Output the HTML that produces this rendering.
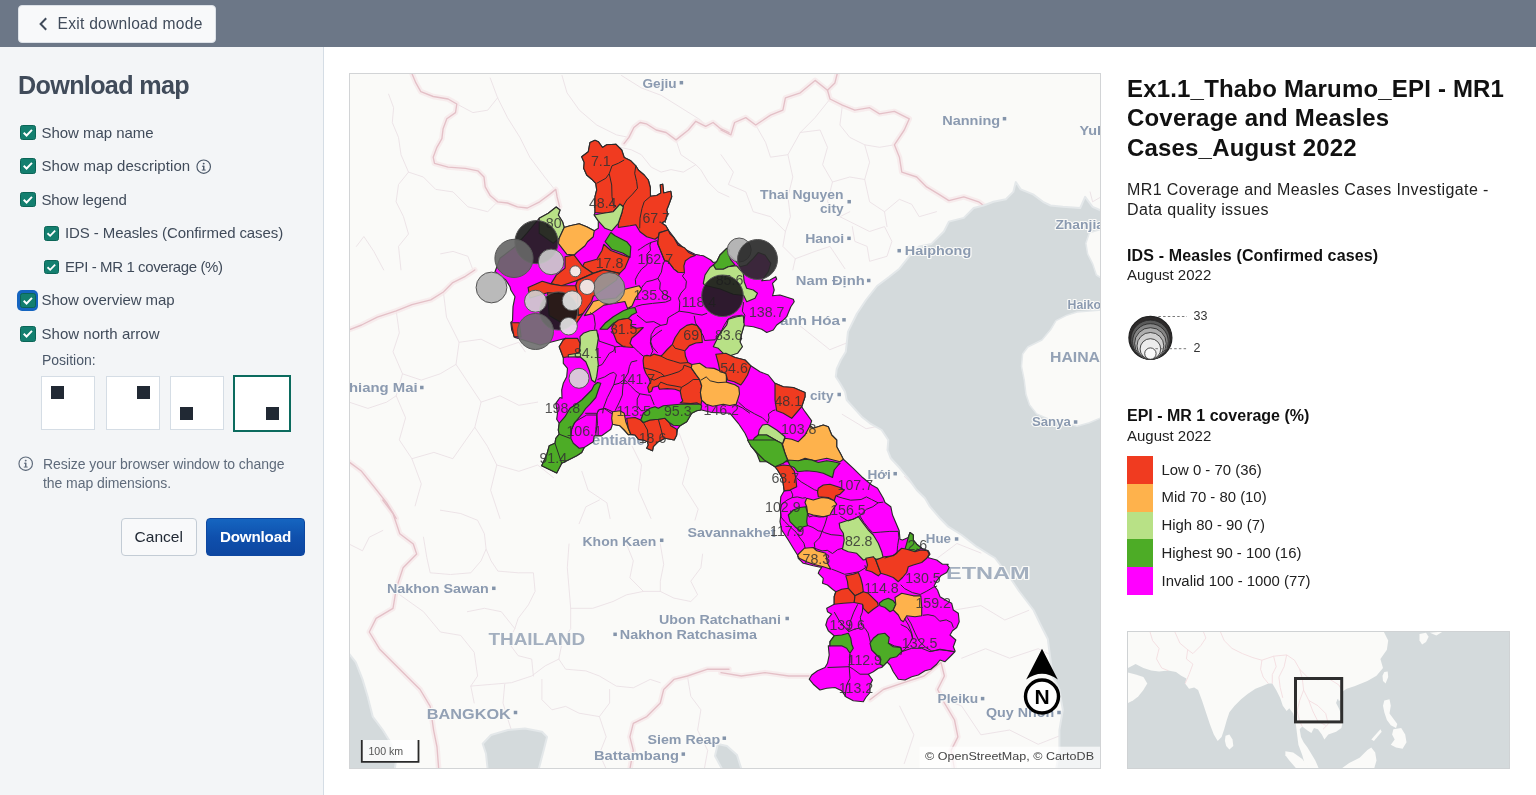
<!DOCTYPE html>
<html lang="en">
<head>
<meta charset="utf-8">
<title>Download map</title>
<style>
*{box-sizing:border-box;margin:0;padding:0}
html,body{width:1536px;height:795px;overflow:hidden;background:#fff;font-family:"Liberation Sans",sans-serif;color:#212934}
.abs{position:absolute}
#topbar{position:absolute;left:0;top:0;width:1536px;height:47px;background:#6c7787}
#exitbtn{position:absolute;left:17.5px;top:4.5px;width:198.5px;height:38px;background:#f8f9fa;border-radius:4px;border:1px solid #dde2e8;color:#404b5a;font-size:15.6px;letter-spacing:0.26px;line-height:36px;white-space:nowrap}
#exitbtn span{position:absolute;left:39px;top:0.5px}
#exitbtn svg{position:absolute;left:18.5px;top:10.8px}
#left{position:absolute;left:0;top:47px;width:324px;height:748px;background:#f3f5f7;border-right:1px solid #d5dde5}
#left h2{position:absolute;left:18px;top:23.5px;font-size:25.2px;font-weight:bold;color:#404b5a;white-space:nowrap;letter-spacing:-0.68px}
.cb{position:absolute;width:15.5px;height:15.5px;background:#137f6f;border:1px solid #0b6557;border-radius:2.5px}
.cb svg{position:absolute;left:0;top:0}
.cb.sm{width:14.5px;height:14.5px}
.lbl{position:absolute;font-size:15px;color:#404b5a;white-space:nowrap;line-height:18px}
.focus{position:absolute;left:17px;top:243px;width:21px;height:21px;border-radius:5px;background:#1565c0}
.posl{position:absolute;left:42px;top:305px;font-size:14px;color:#4a5768;line-height:16px}
.pbox{position:absolute;top:329px;width:53.5px;height:53.5px;background:#fff;border:1px solid #d5dde5}
.pbox.sel{border:2.5px solid #0b6b5e;top:327.5px;width:57.5px;height:57px}
.dot{position:absolute;width:13px;height:13px;background:#212934}
.info{position:absolute;left:43px;top:407.7px;font-size:14px;letter-spacing:-0.06px;line-height:19px;color:#5f6b7b;white-space:nowrap}
.btn{position:absolute;top:470.5px;height:38.5px;border-radius:4px;font-size:15.2px;line-height:36px;text-align:center;white-space:nowrap}
#cancel{left:120.5px;width:76.5px;font-size:15.55px;background:#f8f9fa;border:1px solid #c3ccd5;color:#212934}
#download{left:206px;width:99px;background:linear-gradient(180deg,#1565c0 0%,#0f50ad 50%,#0d47a1 100%);border:1px solid #0d47a1;color:#fff;font-weight:bold;letter-spacing:-0.2px}
#map{position:absolute;left:349px;top:73px;width:752px;height:696px;border:1px solid #d2d4d6;overflow:hidden;background:#fbfbfa}
#right{position:absolute;left:1127px;top:73px;width:400px}
.rt{position:absolute;white-space:nowrap}
.lg{font-size:14.9px;line-height:20px;color:#212121}
</style>
</head>
<body>
<div id="topbar">
  <div id="exitbtn"><svg width="12" height="16" viewBox="0 0 12 16"><path d="M9.2 2.2 L3.6 8 L9.2 13.8" fill="none" stroke="#404b5a" stroke-width="2"/></svg><span>Exit download mode</span></div>
</div>
<div id="left">
  <h2>Download map</h2>
  <div class="cb" style="left:20px;top:77.8px"><svg width="13.5" height="13.5" viewBox="0 0 16 16"><path d="M3.2 8 L6.6 11.3 L13 4.6" fill="none" stroke="#fff" stroke-width="2.3"/></svg></div>
  <div class="lbl" style="left:41.5px;top:76.5px;letter-spacing:-0.040px">Show map name</div>
  <div class="cb" style="left:20px;top:111.2px"><svg width="13.5" height="13.5" viewBox="0 0 16 16"><path d="M3.2 8 L6.6 11.3 L13 4.6" fill="none" stroke="#fff" stroke-width="2.3"/></svg></div>
  <div class="lbl" style="left:41.5px;top:110.0px;letter-spacing:0.055px">Show map description</div>
  <div class="cb" style="left:20px;top:144.9px"><svg width="13.5" height="13.5" viewBox="0 0 16 16"><path d="M3.2 8 L6.6 11.3 L13 4.6" fill="none" stroke="#fff" stroke-width="2.3"/></svg></div>
  <div class="lbl" style="left:41.5px;top:143.7px;letter-spacing:-0.150px">Show legend</div>
  <div class="cb sm" style="left:44px;top:179.1px"><svg width="12.5" height="12.5" viewBox="0 0 16 16"><path d="M3.2 8 L6.6 11.3 L13 4.6" fill="none" stroke="#fff" stroke-width="2.3"/></svg></div>
  <div class="lbl" style="left:65px;top:177.3px;letter-spacing:-0.090px">IDS - Measles (Confirmed cases)</div>
  <div class="cb sm" style="left:44px;top:212.6px"><svg width="12.5" height="12.5" viewBox="0 0 16 16"><path d="M3.2 8 L6.6 11.3 L13 4.6" fill="none" stroke="#fff" stroke-width="2.3"/></svg></div>
  <div class="lbl" style="left:65px;top:210.8px;letter-spacing:-0.400px">EPI - MR 1 coverage (%)</div>
  <div class="focus" style="top:242.9px"></div>
  <div class="cb" style="left:20px;top:245.6px"><svg width="13.5" height="13.5" viewBox="0 0 16 16"><path d="M3.2 8 L6.6 11.3 L13 4.6" fill="none" stroke="#fff" stroke-width="2.3"/></svg></div>
  <div class="lbl" style="left:41.5px;top:244.4px;letter-spacing:-0.070px">Show overview map</div>
  <div class="cb" style="left:20px;top:279.2px"><svg width="13.5" height="13.5" viewBox="0 0 16 16"><path d="M3.2 8 L6.6 11.3 L13 4.6" fill="none" stroke="#fff" stroke-width="2.3"/></svg></div>
  <div class="lbl" style="left:41.5px;top:278.0px;letter-spacing:0.030px">Show north arrow</div>
  <svg class="abs" style="left:195.5px;top:112.2px" width="15.4" height="15.4" viewBox="0 0 16 16"><circle cx="8" cy="8" r="7" fill="none" stroke="#4a5768" stroke-width="1.2"/><rect x="7.3" y="7" width="1.5" height="4.4" fill="#4a5768"/><rect x="6.2" y="7" width="2.2" height="1" fill="#4a5768"/><rect x="6" y="11" width="4" height="1" fill="#4a5768"/><circle cx="8" cy="4.8" r="1" fill="#4a5768"/></svg>
  <div class="posl">Position:</div>
  <div class="pbox" style="left:41.25px"><div class="dot" style="left:8.5px;top:8.5px"></div></div>
  <div class="pbox" style="left:106.00px"><div class="dot" style="left:29.5px;top:8.5px"></div></div>
  <div class="pbox" style="left:170.40px"><div class="dot" style="left:8.5px;top:30.0px"></div></div>
  <div class="pbox sel" style="left:233px"><div class="dot" style="left:30.5px;top:30.2px"></div></div>
  <svg class="abs" style="left:18px;top:408.5px" width="15.4" height="15.4" viewBox="0 0 16 16"><circle cx="8" cy="8" r="7" fill="none" stroke="#5f6b7b" stroke-width="1.2"/><rect x="7.3" y="7" width="1.5" height="4.4" fill="#5f6b7b"/><rect x="6.2" y="7" width="2.2" height="1" fill="#5f6b7b"/><rect x="6" y="11" width="4" height="1" fill="#5f6b7b"/><circle cx="8" cy="4.8" r="1" fill="#5f6b7b"/></svg>
  <div class="info">Resize your browser window to change<br>the map dimensions.</div>
  <div class="btn" id="cancel">Cancel</div>
  <div class="btn" id="download">Download</div>
</div>
<div id="map">
<svg width="750" height="694" viewBox="350 74 750 694" style="position:absolute;left:0;top:0">
<defs><filter id="bl" x="-2%" y="-2%" width="104%" height="104%"><feGaussianBlur stdDeviation="0.7"/></filter></defs>
<g filter="url(#bl)">
<rect x="340" y="64" width="770" height="714" fill="#fafaf8"/>
<g fill="none" stroke-linejoin="round" stroke-linecap="round">
<g stroke="#ebe1e5" stroke-width="0.9">
<polyline points="423.5,537.2 426.8,557.5 430.2,572.8 450.5,574.5 470.8,572.8 481.0,560.9 486.1,549.1 491.1,560.9 497.9,571.1 518.2,572.8 533.4,572.8 535.1,591.4 528.4,604.9 518.2,618.4 514.8,628.6"/>
<polyline points="569.0,544.0 567.3,567.7 569.0,588.0 570.7,608.3 570.7,628.6 562.2,642.1 558.8,659.1 565.6,669.2 585.9,670.9 599.4,676.0 616.3,686.1 633.3,687.8 650.2,679.4 660.3,682.7"/>
<polyline points="570.7,608.3 592.7,608.3 613.0,601.5 626.5,594.8 643.4,591.4 660.3,591.4 673.9,598.1 690.8,601.5 697.6,594.8 690.8,581.2 700.9,567.7 702.6,554.1"/>
<polyline points="660.3,544.0 663.7,564.3 660.3,581.2 660.3,591.4"/>
<polyline points="470.8,686.1 491.1,684.4 511.4,682.7 531.7,676.0 545.3,665.8 558.8,659.1"/>
<polyline points="504.7,684.4 503.0,703.0 508.1,720.0 511.4,730.1"/>
<polyline points="541.9,679.4 541.9,699.7 552.0,709.8 565.6,706.4 579.1,713.2 599.4,716.6 609.6,703.0 609.6,689.5"/>
<polyline points="440.4,510.2 460.7,513.5 477.6,520.3 484.4,533.8 486.1,549.1"/>
<polyline points="579.1,523.7 585.9,506.8 599.4,500.0"/>
<polyline points="349.0,544.0 362.5,550.8 369.3,537.2 382.8,530.5"/>
<polyline points="399.8,594.8 423.5,611.7 440.4,632.0 460.7,635.4 474.2,652.3 477.6,676.0 470.8,686.1 474.2,703.0"/>
<polyline points="467.4,611.7 484.4,608.3 501.3,611.7 514.8,628.6 508.1,642.1 518.2,655.7 531.7,659.1 533.4,676.0"/>
<polyline points="626.5,544.0 633.3,560.9 629.9,577.8 643.4,591.4"/>
<polyline points="687.4,676.0 690.8,696.3 700.9,709.8 697.6,730.1 707.7,750.4 704.3,769.0"/>
<polyline points="599.4,716.6 606.2,736.9 599.4,753.8 606.2,769.0"/>
<polyline points="396.2,310.9 399.3,332.9 393.0,351.8 402.5,373.8 396.2,395.8 405.6,417.8 399.3,439.9 411.9,458.7 421.3,483.9 415.1,505.9"/>
<polyline points="443.4,292.0 446.5,317.2 459.1,342.3 456.0,364.4 468.5,383.2 481.1,402.1 474.8,427.3 487.4,446.2 496.8,465.0 490.6,490.2 500.0,518.5"/>
<polyline points="459.1,342.3 481.1,339.2 500.0,348.6 518.9,342.3 525.2,351.8"/>
<polyline points="402.5,373.8 421.3,380.1 440.2,373.8 456.0,364.4"/>
<polyline points="481.1,402.1 500.0,395.8 518.9,405.3 537.7,402.1"/>
<polyline points="349.0,402.1 367.9,408.4 386.7,402.1 396.2,395.8"/>
<polyline points="411.9,458.7 433.9,452.4 452.8,458.7 474.8,427.3"/>
<polyline points="496.8,465.0 518.9,471.3 537.7,465.0 553.5,477.6"/>
<polyline points="581.8,471.3 588.1,490.2 606.9,502.8 610.1,518.5"/>
<polyline points="632.1,446.2 641.5,465.0 638.4,490.2 651.0,518.5"/>
<polyline points="679.3,433.6 688.7,458.7 682.4,483.9 698.2,509.1 695.0,520.1"/>
<polyline points="388.6,94.1 393.6,107.7 392.3,122.5 398.5,137.4 401.0,154.7 408.5,172.1 398.5,184.5 396.1,201.8 403.5,216.7 408.5,234.0 398.5,246.4 401.0,269.9"/>
<polyline points="490.2,78.0 497.6,97.8 507.5,117.6 519.9,137.4 529.8,157.2 544.7,177.0 554.6,189.4"/>
<polyline points="562.0,75.5 567.0,92.8 579.4,110.2 596.7,125.0 616.5,134.9 628.9,137.4"/>
<polyline points="456.8,104.0 472.9,112.6 487.7,110.2 497.6,97.8"/>
<polyline points="408.5,172.1 423.3,177.0 435.7,189.4 453.0,191.9 467.9,206.8 487.7,211.7 497.6,201.8"/>
<polyline points="620.2,147.3 631.4,149.8 641.3,154.7 651.2,167.1 661.1,172.1 671.0,169.6 683.4,172.1 695.8,164.7 700.7,169.6 708.2,182.0 718.1,191.9 729.0,196.9"/>
<polyline points="676.0,139.9 680.9,154.7 695.8,164.7"/>
<polyline points="621.5,75.5 641.3,87.9 661.1,95.3 680.9,107.7 700.7,120.1 705.7,126.3"/>
<polyline points="356.4,246.4 363.9,236.5 373.8,251.4 383.7,269.9"/>
<polyline points="440.7,253.8 453.0,251.4 467.9,256.3 472.9,269.9"/>
<polyline points="721.0,154.7 733.4,172.1 728.4,184.5 745.8,191.9 753.2,211.7 770.5,216.7 785.4,231.5 782.9,246.4 795.3,258.8 792.8,269.9"/>
<polyline points="755.7,125.0 765.6,142.4 770.5,157.2 787.9,154.7 800.3,132.5 815.1,117.6 830.0,99.0"/>
<polyline points="787.9,154.7 792.8,177.0 787.9,196.9 790.4,216.7 785.4,231.5"/>
<polyline points="800.3,132.5 820.1,130.0 827.5,147.3 822.6,164.7 832.5,182.0 827.5,201.8 839.9,216.7 849.8,211.7"/>
<polyline points="842.4,105.2 839.9,125.0 849.8,137.4 864.7,144.8 879.5,147.3 894.4,144.8"/>
<polyline points="864.7,144.8 869.6,162.2 864.7,179.5 869.6,201.8 884.5,211.7 899.4,199.3 911.7,204.3 919.2,216.7 936.5,211.7"/>
<polyline points="832.5,182.0 849.8,177.0 864.7,179.5"/>
<polyline points="839.9,216.7 854.8,224.1 869.6,231.5 884.5,226.6 891.9,241.4 887.0,256.3 869.6,261.3 867.1,246.4 854.8,241.4 852.3,226.6"/>
<polyline points="795.3,258.8 815.1,251.4 830.0,246.4 844.9,268.7"/>
<polyline points="884.5,211.7 887.0,226.6"/>
<polyline points="1090.1,191.9 1092.6,201.8 1101.0,196.9"/>
<polyline points="784.5,313.5 807.2,331.6 829.8,349.7 852.4,340.7"/>
<polyline points="842.2,414.3 866.1,428.7 890.0,423.9 904.3,438.3"/>
<polyline points="904.3,476.5 923.5,495.6 947.4,490.9 966.5,510.0"/>
<polyline points="937.8,557.8 956.9,543.5 980.9,553.0"/>
<polyline points="952.2,610.4 980.9,605.6 1004.8,620.0 1028.7,610.4"/>
<polyline points="961.7,658.2 985.6,648.7 1009.6,658.2 1038.2,648.7 1057.4,658.2"/>
<polyline points="937.8,696.5 961.7,706.1 980.9,734.8 1009.6,730.0 1038.2,744.3 1062.2,734.8"/>
<polyline points="899.6,706.1 913.9,734.8 904.3,763.5"/>
</g><g stroke="#f6e8ea" stroke-width="5.5" stroke-opacity="0.8">
<polyline points="412.2,74.2 415.9,82.9 420.8,91.6 433.2,96.5 448.1,99.0 456.8,104.0 455.5,112.6 446.8,118.8 443.1,128.7 441.9,138.6 436.9,147.3 433.2,157.2 434.5,163.4 448.1,167.1 465.4,168.4 477.8,170.8 484.0,177.0 485.2,186.9 490.2,195.6 497.6,201.8 507.5,203.0 517.4,206.8 527.4,208.0 539.7,201.8 549.6,194.4 555.8,189.4 557.1,196.9 559.6,206.8"/>
<polyline points="624.0,143.6 628.9,137.4 633.9,127.5 640.1,122.5 646.3,123.8 656.2,130.0 666.1,132.5 676.0,139.9 688.4,130.0 695.8,121.3 705.7,126.3 713.1,122.5 720.6,128.7 729.0,132.5"/>
<polyline points="721.0,130.0 730.9,134.9 734.6,122.5 745.8,117.6 755.7,125.0 770.5,115.1 782.9,110.2 785.4,97.8 800.3,92.8 815.1,80.4 827.5,90.3 830.0,99.0 842.4,105.2 854.8,110.2 869.6,107.7 879.5,113.9 894.4,111.4 909.3,118.8 904.3,130.0 894.4,144.8 899.4,157.2 901.8,172.1 916.7,177.0 926.6,186.9 939.0,194.4 948.9,200.6 963.8,196.9 978.6,201.8 983.6,205.5"/>
<polyline points="837.4,73.0 834.9,82.9 827.5,90.3"/>
<polyline points="349.0,329.8 361.6,325.0 377.3,317.2 396.2,310.9 411.9,304.6 430.8,299.9 443.4,292.0 452.8,282.6 465.4,276.3 474.8,270.0"/>
<polyline points="349.0,461.9 361.6,471.3 374.2,487.0 386.7,502.8 396.2,518.5"/>
<polyline points="382.8,500.0 393.0,513.5 399.8,533.8 413.3,544.0 416.7,554.1 403.1,567.7 396.4,588.0 393.0,608.3 376.1,618.4 369.3,632.0 379.5,648.9 393.0,662.4 406.5,676.0 420.1,689.5 430.2,706.4 433.6,730.1 437.0,747.0 438.7,769.0"/>
<polyline points="729.0,669.2 707.7,669.2 687.4,676.0 673.9,679.4 663.7,689.5 660.3,703.0 646.8,716.6 633.3,723.4 629.9,736.9 633.3,750.4 629.9,769.0"/>
<polyline points="721.0,672.6 741.3,676.0 765.0,672.6 788.7,676.0 809.0,676.0"/>
<polyline points="869.9,699.7 883.4,689.5 903.7,682.7 924.0,676.0 941.0,662.4 944.4,676.0 937.6,689.5 944.4,703.0 954.5,720.0 957.9,736.9 951.1,750.4 954.5,769.0"/>
</g><g stroke="#e4c0c7" stroke-width="1.35">
<polyline points="412.2,74.2 415.9,82.9 420.8,91.6 433.2,96.5 448.1,99.0 456.8,104.0 455.5,112.6 446.8,118.8 443.1,128.7 441.9,138.6 436.9,147.3 433.2,157.2 434.5,163.4 448.1,167.1 465.4,168.4 477.8,170.8 484.0,177.0 485.2,186.9 490.2,195.6 497.6,201.8 507.5,203.0 517.4,206.8 527.4,208.0 539.7,201.8 549.6,194.4 555.8,189.4 557.1,196.9 559.6,206.8"/>
<polyline points="624.0,143.6 628.9,137.4 633.9,127.5 640.1,122.5 646.3,123.8 656.2,130.0 666.1,132.5 676.0,139.9 688.4,130.0 695.8,121.3 705.7,126.3 713.1,122.5 720.6,128.7 729.0,132.5"/>
<polyline points="721.0,130.0 730.9,134.9 734.6,122.5 745.8,117.6 755.7,125.0 770.5,115.1 782.9,110.2 785.4,97.8 800.3,92.8 815.1,80.4 827.5,90.3 830.0,99.0 842.4,105.2 854.8,110.2 869.6,107.7 879.5,113.9 894.4,111.4 909.3,118.8 904.3,130.0 894.4,144.8 899.4,157.2 901.8,172.1 916.7,177.0 926.6,186.9 939.0,194.4 948.9,200.6 963.8,196.9 978.6,201.8 983.6,205.5"/>
<polyline points="837.4,73.0 834.9,82.9 827.5,90.3"/>
<polyline points="349.0,329.8 361.6,325.0 377.3,317.2 396.2,310.9 411.9,304.6 430.8,299.9 443.4,292.0 452.8,282.6 465.4,276.3 474.8,270.0"/>
<polyline points="349.0,461.9 361.6,471.3 374.2,487.0 386.7,502.8 396.2,518.5"/>
<polyline points="382.8,500.0 393.0,513.5 399.8,533.8 413.3,544.0 416.7,554.1 403.1,567.7 396.4,588.0 393.0,608.3 376.1,618.4 369.3,632.0 379.5,648.9 393.0,662.4 406.5,676.0 420.1,689.5 430.2,706.4 433.6,730.1 437.0,747.0 438.7,769.0"/>
<polyline points="729.0,669.2 707.7,669.2 687.4,676.0 673.9,679.4 663.7,689.5 660.3,703.0 646.8,716.6 633.3,723.4 629.9,736.9 633.3,750.4 629.9,769.0"/>
<polyline points="721.0,672.6 741.3,676.0 765.0,672.6 788.7,676.0 809.0,676.0"/>
<polyline points="869.9,699.7 883.4,689.5 903.7,682.7 924.0,676.0 941.0,662.4 944.4,676.0 937.6,689.5 944.4,703.0 954.5,720.0 957.9,736.9 951.1,750.4 954.5,769.0"/>
</g></g>
<g fill="#d4dadc" stroke="#e4e8ea" stroke-width="2" stroke-linejoin="round">
<polygon points="1101.0,210.5 1092.6,206.8 1085.1,196.9 1080.2,208.0 1062.8,206.8 1050.5,205.5 1043.0,201.8 1033.1,194.4 1020.7,189.4 1015.8,182.0 1013.3,191.9 1005.9,199.3 993.5,201.8 983.6,205.5 973.7,208.0 963.8,217.9 948.9,221.6 943.9,231.5 931.5,243.9 919.2,246.4 909.3,256.3 899.4,268.7 889.0,277.0 877.0,286.0 866.0,300.0 857.0,313.5 848.0,331.6 845.8,351.7 840.8,360.0 836.7,369.0 835.8,376.7 840.0,383.3 845.0,391.7 846.7,400.0 854.2,408.3 861.7,416.7 870.0,423.3 881.7,430.0 888.3,440.0 887.5,450.0 890.8,458.3 900.0,468.3 908.3,478.3 916.7,490.0 925.0,498.3 930.0,506.7 940.0,518.3 948.3,526.7 961.7,535.0 976.7,546.7 990.0,555.0 995.0,558.0 1009.6,577.0 1019.0,591.0 1033.5,610.0 1040.6,624.8 1047.8,639.0 1052.6,676.0 1059.4,689.5 1062.8,709.8 1059.4,730.1 1059.4,750.4 1056.0,770.0 1101.0,770.0"/>
<polygon points="482.7,743.7 491.0,735.0 508.0,730.0 525.0,728.4 542.0,731.8 547.0,736.9 543.6,750.4 538.5,770.0 487.7,770.0 486.0,753.8"/>
<polygon points="717.8,744.0 727.0,746.0 737.0,755.0 741.7,770.0 722.6,770.0 715.0,756.0"/>
<polygon points="348.0,652.3 355.8,662.4 362.5,679.4 367.6,696.3 372.7,716.6 382.8,730.0 391.3,743.7 396.4,757.2 394.7,770.0 348.0,770.0"/>
</g>
<g fill="#fafaf8" stroke="#e4e8ea" stroke-width="1.5" stroke-linejoin="round">
<polygon points="1102.0,229.0 1089.4,232.8 1085.9,243.3 1087.6,253.9 1092.9,264.4 1096.4,275.0 1102.0,278.5"/>
<polygon points="1102.0,310.0 1077.0,312.0 1066.5,315.4 1056.0,320.7 1050.7,329.5 1041.9,340.0 1027.8,347.0 1022.6,354.0 1021.5,366.4 1024.3,380.5 1026.0,394.6 1029.6,405.0 1036.6,413.9 1048.9,419.2 1063.0,422.7 1077.0,426.2 1089.4,422.7 1102.0,417.4"/>
</g>
<g font-family="'Liberation Sans',sans-serif" font-weight="bold" fill="#8b9ab0" stroke="#fafaf8" stroke-width="2.2" paint-order="stroke" stroke-linejoin="round">
<text x="642.5" y="88.4" font-size="12.6" textLength="34.0" lengthAdjust="spacingAndGlyphs">Gejiu</text>
<text x="942.2" y="124.5" font-size="12.6" textLength="58.0" lengthAdjust="spacingAndGlyphs">Nanning</text>
<text x="1079.4" y="134.9" font-size="12.6" textLength="21.6" lengthAdjust="spacingAndGlyphs">Yul</text>
<text x="760.1" y="199.3" font-size="12.6" textLength="83.5" lengthAdjust="spacingAndGlyphs">Thai Nguyen</text>
<text x="820" y="213" font-size="12.6" textLength="23.6" lengthAdjust="spacingAndGlyphs">city</text>
<text x="805.2" y="243.2" font-size="12.6" textLength="38.9" lengthAdjust="spacingAndGlyphs">Hanoi</text>
<text x="904.8" y="255" font-size="12.6" textLength="66.4" lengthAdjust="spacingAndGlyphs">Haiphong</text>
<text x="1055.4" y="229" font-size="12.6" textLength="48.6" lengthAdjust="spacingAndGlyphs">Zhanjia</text>
<text x="795.8" y="285.4" font-size="12.6" textLength="68.9" lengthAdjust="spacingAndGlyphs">Nam Định</text>
<text x="1067.5" y="309" font-size="12.6" textLength="33.5" lengthAdjust="spacingAndGlyphs">Haiko</text>
<text x="780" y="324.5" font-size="12.6" textLength="60.0" lengthAdjust="spacingAndGlyphs">anh Hóa</text>
<text x="1050" y="362.4" font-size="14.5" textLength="50.0" lengthAdjust="spacingAndGlyphs" fill="#93a1b5">HAINA</text>
<text x="349" y="392" font-size="12.6" textLength="68.6" lengthAdjust="spacingAndGlyphs">hiang Mai</text>
<text x="810" y="400" font-size="12.6" textLength="23.5" lengthAdjust="spacingAndGlyphs">city</text>
<text x="1032" y="426.3" font-size="12.6" textLength="38.8" lengthAdjust="spacingAndGlyphs">Sanya</text>
<text x="867.5" y="479.2" font-size="12.6" textLength="23.3" lengthAdjust="spacingAndGlyphs">Hới</text>
<text x="582.5" y="545.7" font-size="12.6" textLength="73.8" lengthAdjust="spacingAndGlyphs">Khon Kaen</text>
<text x="687.5" y="537.2" font-size="12.6" textLength="88.0" lengthAdjust="spacingAndGlyphs">Savannakhet</text>
<text x="925.8" y="542.8" font-size="12.6" textLength="25.2" lengthAdjust="spacingAndGlyphs">Hue</text>
<text x="946" y="578.5" font-size="17" textLength="83.6" lengthAdjust="spacingAndGlyphs" fill="#a3afbf">ETNAM</text>
<text x="386.9" y="593" font-size="12.6" textLength="101.9" lengthAdjust="spacingAndGlyphs">Nakhon Sawan</text>
<text x="659" y="623.5" font-size="12.6" textLength="122.0" lengthAdjust="spacingAndGlyphs">Ubon Ratchathani</text>
<text x="619.8" y="638.7" font-size="12.6" textLength="137.2" lengthAdjust="spacingAndGlyphs">Nakhon Ratchasima</text>
<text x="488.4" y="644.8" font-size="16" textLength="96.8" lengthAdjust="spacingAndGlyphs" fill="#a3afbf">THAILAND</text>
<text x="937.6" y="703" font-size="12.6" textLength="40.6" lengthAdjust="spacingAndGlyphs">Pleiku</text>
<text x="986" y="717.3" font-size="12.6" textLength="68.3" lengthAdjust="spacingAndGlyphs">Quy Nhon</text>
<text x="426.8" y="719.3" font-size="15.2" textLength="84.0" lengthAdjust="spacingAndGlyphs" fill="#93a1b5">BANGKOK</text>
<text x="647.5" y="743.7" font-size="12.6" textLength="72.7" lengthAdjust="spacingAndGlyphs">Siem Reap</text>
<text x="594" y="759.9" font-size="12.6" textLength="85.0" lengthAdjust="spacingAndGlyphs">Battambang</text>
<text x="591.8" y="444.6" font-size="15" textLength="53.2" lengthAdjust="spacingAndGlyphs" fill="#93a1b5">entiane</text>
</g>
<g fill="#8494aa">
<rect x="679.65" y="80.95" width="3.5" height="3.5"/>
<rect x="1002.75" y="116.95" width="3.5" height="3.5"/>
<rect x="847.45" y="199.95" width="3.5" height="3.5"/>
<rect x="847.25" y="236.55" width="3.5" height="3.5"/>
<rect x="897.45" y="248.95" width="3.5" height="3.5"/>
<rect x="866.95" y="278.75" width="3.5" height="3.5"/>
<rect x="842.25" y="318.05" width="3.5" height="3.5"/>
<rect x="420.05" y="385.75" width="3.5" height="3.5"/>
<rect x="837.45" y="392.75" width="3.5" height="3.5"/>
<rect x="1073.85" y="420.25" width="3.5" height="3.5"/>
<rect x="893.45" y="471.95" width="3.5" height="3.5"/>
<rect x="659.95" y="538.55" width="3.5" height="3.5"/>
<rect x="954.85" y="537.25" width="3.5" height="3.5"/>
<rect x="492.05" y="586.55" width="3.5" height="3.5"/>
<rect x="785.45" y="616.75" width="3.5" height="3.5"/>
<rect x="613.35" y="632.55" width="3.5" height="3.5"/>
<rect x="980.85" y="696.85" width="3.5" height="3.5"/>
<rect x="1057.25" y="710.75" width="3.5" height="3.5"/>
<rect x="513.75" y="710.75" width="3.5" height="3.5"/>
<rect x="722.55" y="736.45" width="3.5" height="3.5"/>
<rect x="681.55" y="752.35" width="3.5" height="3.5"/>
</g>
</g>
<g stroke="#2b2b2b" stroke-width="1.15" stroke-linejoin="round">
<polygon fill="#ff00ff" points="590.0,142.5 595.0,140.3 598.3,141.7 602.5,147.5 606.7,144.7 615.8,144.2 621.7,150.0 624.2,157.5 630.8,160.8 635.8,165.8 638.3,170.0 644.2,175.0 648.3,180.0 650.3,187.5 650.5,196.3 656.7,195.5 660.8,193.0 660.3,184.7 662.7,184.2 663.7,193.0 670.8,191.3 671.7,196.7 668.7,205.0 666.7,210.0 667.5,213.3 665.3,220.8 661.7,223.0 665.8,225.8 668.3,230.0 673.3,236.7 678.3,243.3 685.0,249.2 695.0,254.2 700.0,255.3 703.3,255.8 710.8,260.0 713.3,262.5 716.7,261.7 720.0,255.0 726.7,248.3 729.2,250.0 728.3,253.7 735.0,260.0 740.0,266.7 746.7,265.0 753.3,258.3 758.3,252.5 765.0,255.0 770.8,263.3 768.3,271.7 761.7,280.8 770.0,280.0 775.8,276.7 776.7,279.2 772.5,283.3 774.2,290.0 772.5,295.8 780.0,295.0 793.3,299.2 794.2,301.7 790.8,306.7 786.7,316.7 782.5,320.8 776.7,325.0 773.3,330.0 766.7,332.5 761.7,329.2 753.3,326.7 745.0,325.8 744.2,325.0 741.7,333.3 740.0,341.7 741.7,338.3 738.3,345.0 730.0,350.8 725.8,353.3 735.0,357.5 745.0,360.0 750.8,365.8 760.0,371.7 768.3,375.0 775.0,383.3 783.3,386.7 793.3,387.5 805.0,392.5 805.0,396.7 801.7,406.7 805.0,411.7 811.7,420.8 810.0,425.8 813.3,428.3 823.3,425.0 828.3,426.7 831.7,435.0 836.7,440.0 836.7,446.7 840.8,454.2 843.3,459.2 844.2,460.0 853.3,468.3 861.7,476.7 871.7,485.0 877.5,488.3 883.3,498.3 885.0,502.5 890.8,506.7 892.5,515.0 897.5,526.7 899.2,530.8 900.0,539.2 902.5,540.0 908.3,537.5 910.0,532.5 913.3,535.0 913.3,540.0 916.7,544.2 921.7,548.3 928.3,550.8 930.0,554.2 927.5,557.5 936.7,560.0 942.5,564.2 948.3,564.2 946.7,564.2 949.2,567.5 946.7,572.5 940.8,575.8 936.7,580.8 934.2,585.8 937.5,590.0 940.0,596.7 946.7,600.8 951.7,603.3 953.3,610.0 958.3,613.3 959.2,621.7 956.7,627.5 952.5,630.8 950.0,635.0 955.8,640.0 953.3,646.7 955.0,650.8 955.0,651.7 951.7,655.0 945.0,661.7 940.0,660.0 936.7,664.2 930.8,669.2 925.0,670.8 918.3,675.0 911.7,676.7 905.0,680.0 898.3,679.2 893.3,671.7 890.0,665.0 886.7,661.7 881.7,667.5 878.3,668.3 873.3,671.7 868.3,674.2 872.5,680.0 870.0,685.0 870.0,692.5 865.8,697.5 863.3,701.7 853.3,700.8 845.8,696.7 841.7,690.8 835.0,687.5 826.7,688.3 820.0,690.0 813.3,684.2 809.2,679.2 811.7,675.0 817.5,670.8 825.0,667.5 827.5,663.3 829.2,655.0 828.3,645.8 830.0,645.8 830.0,641.7 834.2,635.8 828.3,630.8 825.8,625.0 827.5,619.2 831.7,614.2 827.5,611.7 826.7,608.3 834.2,604.2 834.2,596.7 835.8,591.7 832.5,589.2 827.5,585.0 822.5,583.3 823.3,578.3 818.3,573.3 819.5,570.3 821.7,567.5 813.3,565.8 803.3,563.3 798.3,558.3 797.5,555.0 793.3,548.3 788.3,540.0 781.7,530.0 780.0,521.7 780.8,515.0 780.0,506.7 780.8,496.7 784.2,490.8 782.5,478.3 777.5,470.0 775.0,466.7 764.2,460.0 756.7,452.5 750.8,445.8 745.0,433.3 738.3,423.3 730.0,413.3 711.7,412.5 701.7,410.0 700.8,410.0 696.7,410.8 691.7,413.3 686.7,421.7 680.0,425.8 677.5,429.2 676.7,435.0 674.2,440.0 665.0,438.3 658.3,441.7 653.3,446.7 652.5,450.8 646.7,448.3 648.3,445.0 647.5,441.7 643.3,440.0 638.3,439.2 635.0,435.0 628.3,434.7 624.2,430.0 620.0,425.8 612.5,424.2 610.8,429.2 601.7,435.8 594.2,435.8 593.3,441.7 584.2,447.5 581.7,452.5 576.7,455.8 568.3,460.0 561.7,463.3 556.7,473.0 541.7,465.8 546.7,455.0 549.2,445.8 555.0,443.3 555.8,438.3 559.2,434.2 558.3,430.0 559.2,423.3 556.7,419.2 557.5,413.3 555.8,403.3 560.0,397.5 562.0,398.3 561.7,390.0 563.3,383.3 566.7,376.7 567.5,368.3 563.3,363.3 563.3,357.5 559.2,346.7 563.3,340.0 565.8,338.3 540.0,345.0 515.0,337.5 511.7,330.0 510.8,322.5 512.5,320.8 513.0,306.7 515.0,296.7 510.8,290.0 510.0,286.7 505.8,280.0 495.0,271.7 500.0,258.3 515.0,246.7 526.7,233.3 539.2,218.3 548.3,213.3 556.2,207.0 560.0,210.0 558.3,215.0 562.5,221.7 564.2,227.5 570.0,225.8 579.2,223.8 586.7,226.7 594.2,230.8 598.3,228.3 598.3,220.8 594.2,215.0 595.0,212.5 595.0,196.7 596.7,190.0 595.8,183.3 591.7,179.2 586.7,175.0 583.7,168.3 584.2,162.5 581.7,156.7 588.3,151.7"/>
<polygon fill="#f03b20" points="590.0,142.5 595.0,140.3 598.3,141.7 602.5,147.5 606.7,144.7 615.8,144.2 621.7,150.0 624.2,157.5 630.8,160.8 635.8,165.8 638.3,170.0 644.2,175.0 648.3,180.0 650.3,187.5 650.5,196.3 656.7,195.5 660.8,193.0 660.3,184.7 662.7,184.2 663.7,193.0 670.8,191.3 671.7,196.7 668.7,205.0 666.7,210.0 667.5,213.3 665.3,220.8 661.7,223.0 665.8,225.8 668.3,230.0 659.2,232.5 658.3,236.7 655.0,239.2 646.7,236.7 640.0,231.7 635.8,224.7 630.0,225.8 618.3,227.5 618.3,223.3 621.7,213.3 623.3,206.7 620.0,204.2 613.3,211.7 603.3,213.3 595.0,212.5 595.0,196.7 596.7,190.0 595.8,183.3 591.7,179.2 586.7,175.0 583.7,168.3 584.2,162.5 581.7,156.7 588.3,151.7"/>
<polygon fill="#b8e186" points="594.2,215.0 603.3,213.3 613.3,211.7 620.0,204.2 623.3,206.7 621.7,213.3 618.3,223.3 611.7,230.8 605.0,228.3 598.3,220.8"/>
<polygon fill="#f03b20" points="659.3,233.0 663.5,231.5 668.2,229.9 669.8,233.6 673.9,237.7 678.1,245.1 684.4,247.7 688.6,252.4 695.3,255.5 690.6,257.1 685.4,260.7 683.9,265.9 684.4,272.7 678.1,272.2 673.9,269.1 670.8,264.9 667.7,261.2 664.6,260.7 662.5,255.5 660.4,250.3 657.8,244.0 658.3,237.7"/>
<polygon fill="#b8e186" points="556.2,207.0 560.0,210.0 558.3,215.0 562.5,221.7 564.2,227.5 559.2,238.3 553.3,243.3 539.2,233.3 539.2,218.3 548.3,213.3"/>
<polygon fill="#feb24c" points="564.2,227.5 570.0,225.8 579.2,223.8 586.7,226.7 594.2,230.8 593.3,236.7 587.5,241.7 585.0,245.8 576.7,252.5 574.2,255.0 566.7,254.2 558.3,243.3 559.2,238.3"/>
<polygon fill="#4dac26" points="610.8,232.5 615.0,235.8 626.7,241.7 630.8,246.7 630.0,257.5 623.3,253.3 611.7,249.2 605.0,241.7"/>
<polygon fill="#f03b20" points="603.8,244.3 610.8,250.5 629.3,257.5 624.9,268.1 619.6,273.4 603.8,269.9 593.2,273.4 582.7,266.3 584.4,262.8 596.8,259.3 602.0,250.5"/>
<polygon fill="#f03b20" points="565.1,256.7 573.9,254.9 582.7,266.3 593.2,273.4 577.4,280.4 561.5,285.7 551.0,283.9 556.3,275.1 565.1,268.1"/>
<polygon fill="#f03b20" points="577.4,280.4 593.2,273.4 603.8,269.9 619.6,273.4 616.1,280.4 593.2,296.3 591.5,301.5 582.7,313.9 578.3,315.6 575.6,285.7"/>
<polygon fill="#f03b20" points="528.1,287.5 542.2,281.3 551.0,283.9 561.5,285.7 575.6,285.7 577.4,292.7 568.6,294.5 547.5,292.7 529.9,298.0"/>
<polygon fill="#feb24c" points="624.9,289.2 639.0,285.7 641.7,289.2 635.5,298.0 632.0,306.0 627.6,308.6 624.9,301.5 603.8,305.1 591.5,313.9 584.4,315.6 593.2,301.5 600.3,299.8 616.1,298.0"/>
<polygon fill="#f03b20" points="547.5,292.7 568.6,294.5 577.4,292.7 578.3,315.6 582.7,313.9 575.6,324.4 561.5,322.7 549.2,315.6"/>
<polygon fill="#f03b20" points="511.4,322.7 519.3,322.7 521.1,336.8 514.0,336.8"/>
<polygon fill="#4dac26" points="716.7,261.7 720.0,255.0 726.7,248.3 729.2,250.0 728.3,253.7 730.8,260.0 735.0,265.0 728.3,266.7 723.3,269.2 715.8,269.2 713.3,265.0"/>
<polygon fill="#b8e186" points="713.3,265.0 715.8,269.2 723.3,269.2 728.3,266.7 736.7,265.8 743.3,273.3 744.2,281.7 746.7,288.3 753.3,290.0 757.5,293.3 755.0,298.3 746.7,301.7 743.7,295.5 733.2,294.3 720.2,289.0 704.7,285.2 703.3,283.3 705.0,275.0 710.0,267.5"/>
<polygon fill="#b8e186" points="728.3,319.2 736.7,316.7 743.3,315.8 744.2,325.0 741.7,333.3 740.0,341.7 742.5,346.7 737.5,353.3 730.0,355.8 723.3,353.3 718.3,348.3 713.3,346.7 720.0,333.3 726.7,325.0"/>
<polygon fill="#f03b20" points="565.8,338.3 577.5,338.3 580.0,343.3 579.2,353.3 568.3,356.7 563.3,357.5 559.2,346.7 563.3,340.0"/>
<polygon fill="#b8e186" points="580.0,336.7 583.3,333.3 590.0,330.8 596.7,330.0 598.3,338.3 596.7,348.3 597.5,356.7 598.3,365.0 596.7,376.7 595.0,382.5 591.7,380.0 589.2,370.0 585.8,361.7 580.0,356.7 568.3,357.0 568.3,354.7 579.2,353.0 580.3,343.3"/>
<polygon fill="#4dac26" points="630.0,308.3 635.0,307.5 636.7,312.5 631.7,315.0 628.3,318.3 621.7,319.2 613.3,323.3 607.5,329.2 600.0,329.2 605.0,323.3 613.3,316.7 623.3,310.8"/>
<polygon fill="#f03b20" points="618.3,320.0 628.3,318.3 631.7,320.8 630.8,325.8 636.7,328.3 643.3,327.5 638.3,332.5 631.7,338.3 630.0,343.3 633.3,347.5 623.3,346.7 616.7,341.7 613.3,333.3 611.7,328.3 614.2,323.3"/>
<polygon fill="#f03b20" points="680.2,330.0 675.0,337.8 672.4,344.3 667.2,349.5 662.6,354.7 660.7,356.0 654.2,354.1 650.3,356.0 647.0,355.4 643.8,356.0 643.1,360.6 643.8,367.8 645.7,373.0 649.0,378.2 650.3,382.1 647.7,387.3 649.0,392.5 651.6,391.2 652.9,387.3 658.1,386.0 659.4,389.2 667.2,388.6 675.0,389.2 680.2,391.2 681.5,397.7 682.8,401.0 680.2,402.9 690.6,403.6 697.1,402.9 701.0,404.9 701.7,400.3 700.4,392.5 701.7,386.0 699.7,379.5 695.8,374.3 691.3,367.8 691.9,364.5 688.0,362.6 685.4,356.0 684.8,350.8 689.3,345.6 695.8,343.0 702.3,342.4 701.7,335.2 701.0,330.0 697.1,325.4 691.9,324.1 686.7,325.4"/>
<polygon fill="#feb24c" points="691.9,364.5 699.7,363.2 706.2,367.8 714.1,368.4 721.9,371.7 726.4,373.6 726.4,382.1 734.9,384.7 738.8,387.3 739.5,393.8 737.5,400.3 736.2,404.2 729.7,405.5 723.2,404.2 712.8,406.2 706.2,404.2 701.7,400.3 700.4,392.5 701.7,386.0 699.7,379.5 695.8,374.3 691.3,367.8"/>
<polygon fill="#f03b20" points="715.8,354.2 725.8,353.3 735.0,357.5 745.0,360.0 750.8,365.8 747.5,375.0 743.3,381.7 740.8,385.0 734.2,381.7 727.5,380.0 725.8,373.3 720.0,371.7 718.3,363.3"/>
<polygon fill="#f03b20" points="775.0,383.3 783.3,386.7 793.3,387.5 805.0,392.5 805.0,396.7 801.7,406.7 796.7,412.5 791.7,418.3 783.3,413.3 776.7,410.8 775.0,400.0"/>
<polygon fill="#b8e186" points="759.2,430.0 762.5,425.0 767.5,424.2 776.7,430.0 785.0,436.7 782.5,444.2 776.7,440.8 766.7,435.0 758.3,435.0"/>
<polygon fill="#4dac26" points="758.3,435.0 766.7,435.0 776.7,440.8 782.5,444.2 785.0,453.3 788.3,461.7 760.0,461.7 756.7,453.3 750.8,445.0 754.2,438.3"/>
<polygon fill="#feb24c" points="782.5,444.2 785.0,438.3 791.7,439.2 798.3,441.7 805.0,435.0 810.0,425.8 813.3,428.3 823.3,425.0 828.3,426.7 831.7,435.0 836.7,440.0 836.7,446.7 840.8,454.2 843.3,459.2 840.0,461.7 826.7,458.3 815.0,460.8 805.0,458.3 796.7,461.7 788.3,461.7 785.0,453.3"/>
<polygon fill="#4dac26" points="591.7,390.0 586.7,395.0 581.7,400.0 575.0,405.0 570.0,408.3 565.0,416.7 559.2,423.3 558.3,430.0 559.2,434.2 555.8,438.3 555.0,443.3 549.2,445.8 546.7,455.0 541.7,465.8 556.7,473.0 561.7,463.3 568.3,460.0 576.7,455.8 581.7,452.5 584.2,447.5 579.2,448.3 573.3,443.3 570.8,438.3 571.7,429.2 574.2,423.3 578.3,418.3 582.5,413.3 585.8,408.3 590.0,404.2 595.8,397.5 598.3,390.0 600.8,383.3 597.5,382.5 594.2,385.0"/>
<polygon fill="#feb24c" points="612.5,411.7 620.0,410.8 624.2,413.3 625.8,421.7 628.3,428.3 630.8,434.2 628.3,434.7 624.2,430.0 620.0,425.8 612.5,424.2 611.7,418.3"/>
<polygon fill="#f03b20" points="626.7,418.3 635.0,417.5 640.8,420.0 643.3,422.5 650.0,420.0 658.3,419.2 665.0,418.3 669.2,422.5 670.8,425.8 676.7,429.2 676.7,435.0 674.2,440.0 665.0,438.3 658.3,441.7 653.3,446.7 652.5,450.8 646.7,448.3 648.3,445.0 647.5,441.7 643.3,440.0 638.3,439.2 635.0,435.0 630.8,434.2 628.3,428.3"/>
<polygon fill="#4dac26" points="640.8,420.0 643.3,413.3 650.0,408.3 655.0,406.7 658.3,408.3 663.3,405.8 680.0,404.2 700.0,404.2 701.7,405.8 700.8,410.0 696.7,410.8 691.7,413.3 686.7,421.7 680.0,425.8 673.3,425.3 669.2,422.5 665.0,418.3 658.3,419.2 650.0,420.0 643.3,422.5"/>
<polygon fill="#4dac26" points="747.5,440.0 775.0,440.0 781.7,443.3 785.0,453.3 787.5,460.0 783.3,463.3 775.0,466.7 764.2,460.0 756.7,452.5 750.8,445.8"/>
<polygon fill="#4dac26" points="787.5,460.0 798.3,460.8 805.0,459.2 811.7,460.0 818.3,462.5 826.7,460.8 833.3,461.7 840.0,463.3 838.3,465.0 834.2,470.0 832.5,477.5 823.3,473.3 816.7,471.7 806.7,470.8 797.5,471.7 794.2,467.5 790.0,465.8"/>
<polygon fill="#f03b20" points="775.0,466.7 783.3,465.0 790.0,465.8 794.2,470.8 795.8,478.3 796.7,486.7 790.0,490.0 784.2,490.8 782.5,478.3 777.5,470.0"/>
<polygon fill="#f03b20" points="818.3,488.3 823.3,485.0 830.0,484.2 840.0,487.5 844.2,490.0 840.0,494.2 835.8,495.8 834.2,500.8 828.3,497.5 818.3,496.7 817.5,491.7"/>
<polygon fill="#feb24c" points="805.0,502.5 806.7,498.3 813.3,500.0 821.7,497.5 828.3,498.3 834.2,500.8 836.7,504.2 832.5,510.0 830.0,515.0 823.3,516.7 813.3,515.0 807.5,513.3 806.7,506.7"/>
<polygon fill="#4dac26" points="788.3,515.0 793.3,510.0 800.0,507.5 805.8,506.7 807.5,513.3 806.7,521.7 807.5,525.8 803.3,526.7 800.0,530.8 795.0,526.7 790.0,521.7"/>
<polygon fill="#b8e186" points="839.2,523.3 846.7,520.8 853.3,519.2 858.3,516.7 863.3,523.3 868.3,530.0 873.3,535.0 878.3,543.3 881.7,551.7 883.3,558.3 876.7,559.2 871.7,557.5 866.7,559.2 863.3,560.0 856.7,553.3 848.3,551.7 842.5,549.2 844.2,540.0 843.3,533.3 840.0,528.3"/>
<polygon fill="#feb24c" points="797.5,555.0 804.2,548.3 813.3,547.5 816.7,550.8 825.8,553.3 827.5,563.3 830.8,569.2 823.3,566.7 813.3,564.2 806.7,561.7 799.2,558.3"/>
<polygon fill="#4dac26" points="905.0,549.2 906.7,543.3 908.3,537.5 910.0,532.5 913.3,535.0 913.3,540.0 916.7,544.2 921.7,548.3 913.3,551.7"/>
<polygon fill="#f03b20" points="865.8,558.3 873.3,556.7 875.8,560.0 878.3,566.7 880.8,573.3 878.3,575.8 871.7,571.7 865.8,570.0 867.5,565.0"/>
<polygon fill="#f03b20" points="875.8,560.0 884.2,556.7 893.3,555.8 901.7,548.3 906.7,549.2 915.0,551.7 920.8,550.0 927.5,550.8 929.2,554.2 926.7,558.3 921.7,562.5 913.3,565.0 908.3,566.7 906.7,572.5 902.5,577.5 898.3,581.7 893.3,577.5 886.7,575.0 880.8,573.3 878.3,566.7"/>
<polygon fill="#f03b20" points="845.8,575.8 853.3,574.2 858.3,572.5 860.8,578.3 862.5,585.0 863.3,591.7 858.3,594.2 855.0,595.8 848.3,588.3 847.5,581.7"/>
<polygon fill="#f03b20" points="835.8,591.7 841.7,589.2 848.3,588.3 855.0,595.8 854.2,602.5 843.3,603.3 834.2,604.2 834.2,596.7"/>
<polygon fill="#f03b20" points="855.0,595.8 858.3,594.2 863.3,591.7 868.3,593.3 873.3,598.3 877.5,602.5 878.3,605.8 873.3,609.2 868.3,613.3 863.3,608.3 862.5,604.2 854.2,602.5"/>
<polygon fill="#4dac26" points="879.2,603.3 883.3,600.0 888.3,598.3 893.3,600.8 895.8,604.2 893.3,610.0 890.0,611.7 885.0,607.5 880.0,605.8"/>
<polygon fill="#feb24c" points="895.0,597.5 901.7,593.3 913.3,595.8 920.8,595.8 921.7,606.7 921.7,615.8 915.0,616.7 906.7,615.8 903.3,621.7 900.8,620.0 898.3,615.0 893.3,610.0 895.8,604.2"/>
<polygon fill="#4dac26" points="830.0,641.7 834.2,635.8 841.7,635.0 848.3,633.3 850.8,638.3 851.7,644.2 853.3,648.3 850.0,653.3 846.7,648.3 841.7,645.8 830.0,645.8"/>
<polygon fill="#4dac26" points="870.0,643.3 873.3,638.3 878.3,634.2 885.0,633.3 889.2,637.5 888.3,643.3 893.3,646.7 900.8,647.5 901.7,651.7 896.7,656.7 890.0,658.3 886.7,662.5 883.3,665.8 880.0,664.2 880.8,659.2 876.7,655.0 871.7,650.0"/>
</g>
<g fill="none" stroke="#2b2b2b" stroke-width="1" stroke-linejoin="round">
<polyline points="624.2,160.0 618.3,163.3 612.0,165.8 609.2,173.7 605.8,178.3 596.7,183.3"/>
<polyline points="609.2,173.7 611.7,185.0 612.0,196.7 613.3,204.2 615.8,207.0"/>
<polyline points="635.8,165.8 634.7,173.3 636.7,181.7 637.5,188.3 632.5,194.2 626.7,200.0 623.0,206.3"/>
<polyline points="650.5,196.3 644.2,201.7 642.0,208.3 640.0,218.3 639.7,228.3"/>
<polyline points="651.0,242.4 645.8,245.1 640.5,248.7 637.9,250.3"/>
<polyline points="657.2,240.4 656.2,240.9 651.0,242.4 649.9,245.1 650.5,250.3 646.8,254.4 647.8,259.7 646.8,264.9 641.6,269.1 637.9,274.3 635.3,279.5 635.8,284.7"/>
<polyline points="657.2,240.4 657.8,244.0 660.4,250.3 662.5,255.5 664.6,260.7 662.5,265.9 661.4,272.2 657.8,278.5 652.0,280.5 646.8,281.6 643.7,284.7 641.6,287.8"/>
<polyline points="664.6,260.7 667.7,261.2 670.8,264.9 673.9,269.1 678.1,272.2"/>
<polyline points="657.7,278.0 660.3,282.6 659.7,289.1 664.2,294.3 670.7,297.5 670.7,300.1 665.5,302.1 652.5,303.4 642.1,304.7 635.6,306.6"/>
<polyline points="684.4,273.4 682.4,276.0 686.4,281.2 685.7,287.8 681.1,293.0 678.5,298.2 679.8,302.1 679.2,311.2"/>
<polyline points="679.2,311.2 689.0,312.5 694.2,313.8 702.0,315.1 707.2,313.2"/>
<polyline points="694.2,315.8 695.5,322.9 699.4,329.4 703.3,335.9 704.6,340.5 715.0,339.8 720.2,333.3 724.1,325.5 728.0,319.0"/>
<polyline points="679.2,311.2 674.6,313.8 668.1,317.7 666.8,324.2 660.3,325.5 655.1,328.1 651.2,334.6 650.5,341.1 652.5,347.0 657.7,352.9"/>
<polyline points="636.9,315.1 646.0,322.3 653.8,321.6 661.0,325.5"/>
<polyline points="743.6,302.1 742.3,311.2 744.9,315.1 743.6,322.9"/>
<polyline points="728.0,319.0 733.2,316.4 742.3,315.1"/>
<polyline points="590.0,312.5 593.9,315.1 595.2,324.2 594.6,329.4"/>
<polyline points="597.8,333.3 599.1,341.1 614.7,346.4 615.4,352.9"/>
<polyline points="597.5,366.5 602.1,364.5 606.0,358.6 609.2,353.4 613.8,350.8 615.1,346.9 620.3,346.3 625.5,346.3"/>
<polyline points="597.5,379.5 604.7,376.9 609.9,373.6 613.8,372.3 616.4,374.9 613.8,384.7 607.3,397.7 603.4,408.1 602.7,413.3"/>
<polyline points="613.8,384.7 619.0,383.4 624.2,379.5 628.1,373.0 629.4,366.5 631.4,361.9 637.2,360.6"/>
<polyline points="624.2,379.5 622.9,386.0 622.3,395.1 619.0,402.9 616.4,408.1 615.1,410.7"/>
<polyline points="624.2,379.5 630.7,386.0 635.9,391.2 639.8,393.8 647.7,395.1 650.3,395.1"/>
<polyline points="639.8,393.8 637.2,399.0 637.2,405.5 641.1,410.7 643.8,410.7"/>
<polyline points="650.3,395.1 652.9,401.6 654.2,404.9"/>
<polyline points="633.3,346.9 638.5,352.1 643.1,356.0"/>
<polyline points="650.3,356.0 652.9,350.8 650.3,343.0 651.6,337.8 658.1,332.6 662.0,330.0"/>
<polyline points="585.2,413.3 596.9,413.3 597.5,423.8 595.6,432.9"/>
<polyline points="596.9,413.3 599.5,409.4 604.7,408.8 611.2,413.3 612.5,413.3"/>
<polyline points="734.9,404.2 742.7,408.1 750.0,413.3"/>
<polyline points="643.8,367.8 649.0,369.1 654.2,370.4 660.7,373.0 664.6,376.2 671.1,374.3 678.9,371.7 682.8,369.1 684.1,365.2 691.3,367.8"/>
<polyline points="649.0,378.2 654.2,380.1 660.7,376.9 664.6,376.2"/>
<polyline points="680.2,391.2 681.5,387.3 688.0,383.4 693.2,379.5 699.7,379.5"/>
<polyline points="660.7,356.0 667.2,359.3 673.7,361.2 680.2,363.2 688.0,362.6"/>
<polyline points="672.4,344.3 675.0,348.2 684.8,350.8"/>
<polyline points="658.1,386.0 660.7,382.1 667.2,384.7 675.0,386.0 681.5,387.3"/>
<polyline points="701.0,380.1 706.2,376.9 710.2,380.8 718.0,382.7 726.4,382.1"/>
<polyline points="738.4,402.1 745.6,408.6 754.7,413.9 762.5,417.8 767.7,423.0"/>
<polyline points="767.7,423.0 769.0,417.8 768.4,413.9 772.9,410.6 775.5,409.9"/>
<polyline points="796.7,478.0 801.2,481.9 807.8,485.8 814.3,489.7 818.2,491.0"/>
<polyline points="784.3,491.0 790.8,490.4 792.8,494.9 792.1,497.6 797.3,496.9 802.6,498.2 805.8,497.6"/>
<polyline points="792.1,497.6 786.9,500.2 781.7,504.1 780.4,510.6 781.1,517.1 784.3,521.0 789.5,526.2 796.0,532.1"/>
<polyline points="836.4,496.2 842.9,498.2 850.7,500.2 861.1,499.5 866.4,496.9 871.6,499.5 878.1,502.8 883.3,502.1"/>
<polyline points="840.3,516.4 848.1,521.0 854.6,518.4 859.8,515.8 866.4,509.3 872.9,506.7 878.1,502.8"/>
<polyline points="859.8,515.8 863.8,522.3 869.0,528.8 872.9,532.7 880.7,532.1 889.8,531.4 898.3,531.4"/>
<polyline points="807.8,513.2 809.1,517.1 813.0,515.8 819.5,517.1 827.3,516.4"/>
<polyline points="827.3,516.4 824.7,524.9 822.1,531.4 824.7,532.7 831.2,534.7 839.0,535.3 842.9,536.0"/>
<polyline points="807.8,525.5 813.0,527.5 818.2,530.8 822.1,531.4"/>
<polyline points="822.1,531.4 819.5,537.9 814.3,543.1 814.9,548.3"/>
<polyline points="796.0,532.1 799.9,537.9 803.9,543.1 805.2,548.3"/>
<polyline points="814.9,548.3 822.1,550.9 827.3,550.3 832.5,553.5 837.7,549.6 842.3,548.3"/>
<polyline points="898.3,531.4 898.9,537.9 897.6,545.7 897.0,553.5 891.1,556.1 884.6,558.1"/>
<polyline points="831.7,569.1 836.9,571.1 844.7,574.3 852.5,573.0 859.0,571.7 865.5,567.8 864.9,565.2"/>
<polyline points="900.7,584.7 904.6,588.6 912.4,592.6 920.2,594.5 926.7,591.2 933.2,587.3 937.1,586.0"/>
<polyline points="922.8,615.3 928.0,614.7 934.5,616.0 939.7,621.2 946.2,619.9 951.5,622.5 953.4,627.7"/>
<polyline points="857.7,604.3 853.8,612.1 849.9,622.5 848.6,631.6"/>
<polyline points="862.9,604.9 862.3,612.1 860.3,617.3 861.6,625.1 865.5,629.0 868.1,632.9 869.4,638.1 870.7,643.3"/>
<polyline points="848.6,631.6 855.1,629.0 861.6,627.7"/>
<polyline points="834.3,612.1 839.5,621.2 848.6,631.6"/>
<polyline points="900.7,624.5 907.2,627.7 911.1,632.9 912.4,638.1 909.8,643.3 904.6,649.8 902.0,651.1"/>
<polyline points="907.2,617.3 911.1,623.8 915.0,632.9 918.9,640.7 925.4,647.2 931.9,651.1 939.7,649.8 946.2,650.5 954.1,651.8"/>
<polyline points="904.6,618.6 908.5,625.1 911.7,632.9 913.0,639.4"/>
<polyline points="889.0,643.3 894.2,645.9 900.7,647.2 902.0,651.1 900.7,655.1"/>
<polyline points="849.9,653.8 849.9,662.9"/>
<polyline points="850.0,654.2 849.2,666.7 850.0,678.3 846.7,685.0 845.0,696.7"/>
<polyline points="827.5,667.5 849.2,666.7 853.3,669.2 860.0,674.2 868.3,674.2"/>
<polyline points="901.7,651.7 911.7,648.3 921.7,648.3 930.0,651.7 940.0,649.2 955.0,651.7"/>
<polyline points="571.7,429.2 575.0,421.7 586.7,415.0 596.7,415.0 598.3,410.0 605.0,408.3 612.5,411.7"/>
<polyline points="596.7,415.0 595.8,435.0"/>
<polyline points="643.3,422.5 647.5,430.0 648.3,440.0"/>
<polyline points="658.3,419.2 660.8,428.3 663.3,438.3"/>
<polyline points="559.2,434.2 570.0,438.3"/>
<polyline points="555.0,443.3 561.7,463.3"/>
</g>
<g font-family="'Liberation Sans',sans-serif" font-size="14.2" fill="#333" fill-opacity="0.85" text-anchor="middle">
<text x="600.8" y="166.3">7.1</text>
<text x="602.7" y="208.3">48.4</text>
<text x="656.2" y="222.8">67.7</text>
<text x="553.7" y="227.5">80</text>
<text x="609.5" y="268.3">17.8</text>
<text x="655.3" y="264.2">162.7</text>
<text x="651.2" y="300">135.8</text>
<text x="699" y="306.7">118.4</text>
<text x="729.5" y="285">85.6</text>
<text x="766.7" y="316.7">138.7</text>
<text x="623.7" y="334.2">31.5</text>
<text x="691.2" y="340">69</text>
<text x="728.7" y="340">83.6</text>
<text x="587.8" y="357.5">84.1</text>
<text x="734" y="373.3">54.6</text>
<text x="637.5" y="384.2">141.7</text>
<text x="788.3" y="405.8">48.1</text>
<text x="562.5" y="413.3">198.8</text>
<text x="633.7" y="415.8">113.5</text>
<text x="677.8" y="415.8">95.3</text>
<text x="721.2" y="415">146.2</text>
<text x="584.2" y="435.8">106.1</text>
<text x="798.7" y="434.2">103.8</text>
<text x="652.5" y="442.5">18.6</text>
<text x="553.3" y="463.3">91.4</text>
<text x="785.3" y="482.5">68.7</text>
<text x="855.3" y="490">107.7</text>
<text x="782.8" y="511.7">102.9</text>
<text x="848" y="514.5">156.5</text>
<text x="787.3" y="536">117.9</text>
<text x="858.7" y="545.5">82.8</text>
<text x="917.3" y="550">2.6</text>
<text x="816.4" y="564.3">78.3</text>
<text x="923" y="582.9">130.5</text>
<text x="881.4" y="593">114.8</text>
<text x="933.2" y="607.6">159.2</text>
<text x="847.2" y="629.6">139.6</text>
<text x="919.6" y="647.9">132.5</text>
<text x="864.8" y="665.1">112.9</text>
<text x="856" y="692.9">113.2</text>
</g>
<g stroke="#555" stroke-width="1">
<circle cx="739.2" cy="250" r="12" fill="rgba(175,175,175,0.92)"/>
<circle cx="536.5" cy="242.1" r="21.6" fill="rgba(30,30,30,0.92)"/>
<circle cx="722.5" cy="295.8" r="20.8" fill="rgba(28,28,28,0.92)"/>
<circle cx="757.5" cy="259.5" r="20" fill="rgba(42,42,42,0.92)"/>
<circle cx="514" cy="258.4" r="19.1" fill="rgba(103,103,103,0.92)"/>
<circle cx="558.6" cy="311" r="19.1" fill="rgba(25,25,25,0.92)"/>
<circle cx="535.5" cy="331.5" r="18" fill="rgba(112,112,112,0.92)"/>
<circle cx="609.1" cy="288.3" r="15.8" fill="rgba(150,150,150,0.92)"/>
<circle cx="491.5" cy="287.5" r="15.4" fill="rgba(180,180,180,0.92)"/>
<circle cx="551.1" cy="261.9" r="12.8" fill="rgba(201,201,201,0.92)"/>
<circle cx="535.5" cy="301.2" r="11" fill="rgba(205,205,205,0.92)"/>
<circle cx="579" cy="378.3" r="10" fill="rgba(215,215,215,0.92)"/>
<circle cx="572.1" cy="300.7" r="9.9" fill="rgba(228,228,228,0.92)"/>
<circle cx="568.6" cy="326.2" r="8.8" fill="rgba(228,228,228,0.92)"/>
<circle cx="587.1" cy="286.9" r="7.6" fill="rgba(240,240,240,0.92)"/>
<circle cx="575.3" cy="271.3" r="5.5" fill="rgba(245,245,245,0.92)"/>
</g>
<g><path d="M1042 648.8 L1057.8 679.6 Q1042 668 1026.2 679.6 Z" fill="#000"/><circle cx="1042" cy="696.5" r="16.5" fill="#fff" stroke="#000" stroke-width="3.4"/><text x="1042.2" y="703.9" font-family="'Liberation Sans',sans-serif" font-weight="bold" font-size="21" text-anchor="middle" fill="#000">N</text></g>
<g><rect x="361" y="740" width="58" height="22" fill="#fff" fill-opacity="0.8"/><path d="M361.8 740 V761.8 H418.5 V740" fill="none" stroke="#2a2a2a" stroke-width="1.8"/><text x="368.4" y="754.5" font-family="'Liberation Sans',sans-serif" font-size="10.3" fill="#555" textLength="34.8" lengthAdjust="spacingAndGlyphs">100 km</text></g>
<g><rect x="919.5" y="746.7" width="181" height="22" fill="#fff" fill-opacity="0.7"/><text x="925" y="760.4" font-family="'Liberation Sans',sans-serif" font-size="11.3" fill="#444" textLength="169" lengthAdjust="spacingAndGlyphs">© OpenStreetMap, © CartoDB</text></g>
</svg>
</div>
<div id="right">
<div class="rt" style="left:0;top:0.5px;font-size:24px;line-height:29.5px;font-weight:bold;color:#111;letter-spacing:0.18px">Ex1.1_Thabo Marumo_EPI - MR1<br>Coverage and Measles<br>Cases_August 2022</div>
<div class="rt" style="left:0;top:107.3px;font-size:16px;line-height:19.4px;color:#212121;letter-spacing:0.4px">MR1 Coverage and Measles Cases Investigate -<br>Data quality issues</div>
<div class="rt" style="left:0;top:172.5px;font-size:16px;line-height:20px;font-weight:bold;color:#111;letter-spacing:0.13px">IDS - Measles (Confirmed cases)</div>
<div class="rt" style="left:0;top:192.4px;font-size:15px;line-height:20px;color:#212121">August 2022</div>
<svg class="abs" style="left:0;top:236px" width="120" height="60" viewBox="1127 309 120 60"><circle cx="1150.4" cy="337.8" r="21.5" fill="#2e2b2b" stroke="#222" stroke-width="1.2"/><circle cx="1150.4" cy="339.7" r="19.6" fill="#5a5a5a" stroke="#222" stroke-width="0.8"/><circle cx="1150.4" cy="341.5" r="17.8" fill="#858585" stroke="#222" stroke-width="0.8"/><circle cx="1150.4" cy="343.5" r="15.8" fill="#adadad" stroke="#222" stroke-width="0.8"/><circle cx="1150.4" cy="345.9" r="13.4" fill="#d0d0d0" stroke="#222" stroke-width="0.8"/><circle cx="1150.4" cy="349.0" r="10.3" fill="#ececec" stroke="#222" stroke-width="0.8"/><circle cx="1150.4" cy="353.6" r="5.7" fill="#f9f9f9" stroke="#222" stroke-width="0.8"/><path d="M1158.4 316.5 H1187 M1155.4 348.7 H1187" stroke="#6a6a6a" stroke-width="0.9" stroke-dasharray="2.5 2.2" fill="none"/><text x="1193.5" y="319.5" font-family="'Liberation Sans',sans-serif" font-size="12.5" fill="#333">33</text><text x="1193.5" y="352.4" font-family="'Liberation Sans',sans-serif" font-size="12.5" fill="#333">2</text></svg>
<div class="rt" style="left:0;top:332.5px;font-size:16px;line-height:20px;font-weight:bold;color:#111">EPI - MR 1 coverage (%)</div>
<div class="rt" style="left:0;top:353px;font-size:15px;line-height:20px;color:#212121">August 2022</div>
<div class="abs" style="left:0;top:382.9px;width:25.7px;height:28.0px;background:#f03b20"></div>
<div class="rt lg" style="left:34.5px;top:386.5px">Low 0 - 70 (36)</div>
<div class="abs" style="left:0;top:410.7px;width:25.7px;height:28.0px;background:#feb24c"></div>
<div class="rt lg" style="left:34.5px;top:414.3px">Mid 70 - 80 (10)</div>
<div class="abs" style="left:0;top:438.5px;width:25.7px;height:28.0px;background:#b8e186"></div>
<div class="rt lg" style="left:34.5px;top:442.1px">High 80 - 90 (7)</div>
<div class="abs" style="left:0;top:466.3px;width:25.7px;height:28.0px;background:#4dac26"></div>
<div class="rt lg" style="left:34.5px;top:469.9px">Highest 90 - 100 (16)</div>
<div class="abs" style="left:0;top:494.1px;width:25.7px;height:28.0px;background:#ff00ff"></div>
<div class="rt lg" style="left:34.5px;top:497.7px">Invalid 100 - 1000 (77)</div>
<svg class="abs" style="left:0;top:558px" width="383" height="138" viewBox="0 0 383 138"><rect x="0" y="0" width="383" height="138" fill="#d4dadc"/><g fill="#fafaf8"><polygon points="0.3,-0.8 256.0,-0.8 261.2,9.6 259.9,18.7 253.4,27.9 256.0,37.0 249.5,44.8 240.4,50.0 227.4,55.2 219.6,57.8 215.7,60.4 214.4,65.6 210.4,68.2 209.1,72.1 211.8,77.3 214.4,83.8 215.7,90.4 214.4,96.9 209.1,100.8 201.3,103.4 197.4,108.6 194.8,103.4 190.9,98.2 187.0,96.9 184.4,102.1 180.5,99.5 175.3,95.6 172.7,98.2 174.0,106.0 176.6,111.2 180.5,116.4 184.4,122.9 188.3,129.4 192.2,138.5 179.2,138.5 175.3,124.2 171.4,113.8 170.1,103.4 168.8,93.0 166.2,82.5 162.3,77.3 159.7,79.9 155.8,74.7 153.2,66.9 149.2,59.1 145.3,52.6 141.4,52.6 134.9,55.2 128.4,57.8 120.6,63.0 114.1,68.2 107.6,74.7 102.4,81.2 99.8,89.1 97.2,98.2 94.6,106.0 90.7,109.9 86.8,103.4 82.8,93.0 78.9,81.2 75.0,69.5 71.1,59.1 67.2,56.5 62.0,57.8 58.1,52.6 59.4,47.4 54.2,44.8 49.0,40.9 41.2,39.6 32.1,40.4 24.2,39.6 16.4,37.0 8.6,33.1 3.4,35.7 -1.8,38.3"/><polygon points="-1.8,40.9 8.6,43.5 16.4,46.1 20.3,52.6 16.4,59.1 11.2,65.6 6.0,69.5 -1.8,73.4"/><polygon points="98.5,104.7 102.4,103.4 105.5,108.6 106.3,115.1 102.4,118.5 99.2,115.1 97.9,109.9"/><polygon points="257.3,40.9 260.7,40.4 261.2,46.1 258.6,52.6 256.0,50.0 255.5,44.8"/><polygon points="292.5,3.1 299.0,1.8 301.6,5.7 299.0,10.9 295.1,13.5 292.5,9.6"/><polygon points="302.9,1.8 315.9,0.5 309.4,4.4"/><polygon points="257.3,69.5 262.5,68.2 263.8,74.7 262.5,82.5 266.4,87.8 270.3,93.0 269.0,96.9 263.8,94.3 259.9,89.1 257.3,81.2 256.0,74.7"/><polygon points="266.4,98.2 274.2,96.9 278.2,103.4 279.5,111.2 275.6,117.7 269.0,116.4 263.8,113.8 267.7,108.6 265.1,103.4"/><polygon points="244.3,108.6 253.4,98.2 254.7,100.8 246.9,109.9"/><polygon points="158.4,120.3 166.2,121.6 175.3,128.1 183.1,138.5 170.1,138.5 162.3,129.4 158.4,124.2"/><polygon points="213.1,138.5 222.2,132.0 232.6,126.8 240.4,119.0 244.3,116.4 248.2,121.6 249.5,129.4 246.9,138.5"/><polygon points="210.4,65.6 214.4,64.8 214.9,68.2 211.8,70.0"/></g><g fill="none" stroke="#f3d9dd" stroke-width="0.8"><polyline points="22.9,0.5 25.6,9.6 32.1,17.4 29.5,27.9 34.7,37.0 41.2,39.6"/><polyline points="47.7,0.5 52.9,12.2 60.7,18.7 59.4,27.9 65.9,33.1 62.0,43.5 58.1,52.6"/><polyline points="76.3,0.5 78.9,7.0 73.7,14.8 65.9,22.6 60.7,18.7"/><polyline points="93.3,0.5 97.2,9.6 105.0,17.4 115.4,22.6 125.8,26.6 134.9,29.2 146.6,25.2 159.7,23.9 167.5,29.2 172.7,38.3 175.3,47.4"/><polyline points="134.9,29.2 133.6,38.3 136.2,46.1 141.4,52.6"/><polyline points="146.6,25.2 149.2,35.7 145.3,43.5 145.3,52.6"/><polyline points="159.7,23.9 157.1,35.7 151.9,46.1 153.2,56.5 155.8,66.9"/><polyline points="172.7,38.3 180.5,46.1 190.9,48.7 201.3,47.4 211.8,53.9 215.7,60.4"/><polyline points="175.3,47.4 176.6,59.1 181.8,69.5 190.9,74.7 198.7,82.5 201.3,93.0 196.1,98.2"/><polyline points="176.6,59.1 172.7,69.5 170.1,79.9 172.7,90.4 175.3,95.6"/><polyline points="181.8,69.5 185.7,79.9 190.9,90.4 198.7,94.3"/></g><rect x="0.5" y="0.5" width="382" height="137" fill="none" stroke="#cfd2d4" stroke-width="1"/><rect x="168.5" y="47.5" width="46.2" height="43.4" fill="none" stroke="#2e2e2e" stroke-width="3"/></svg>
</div>
</body>
</html>
